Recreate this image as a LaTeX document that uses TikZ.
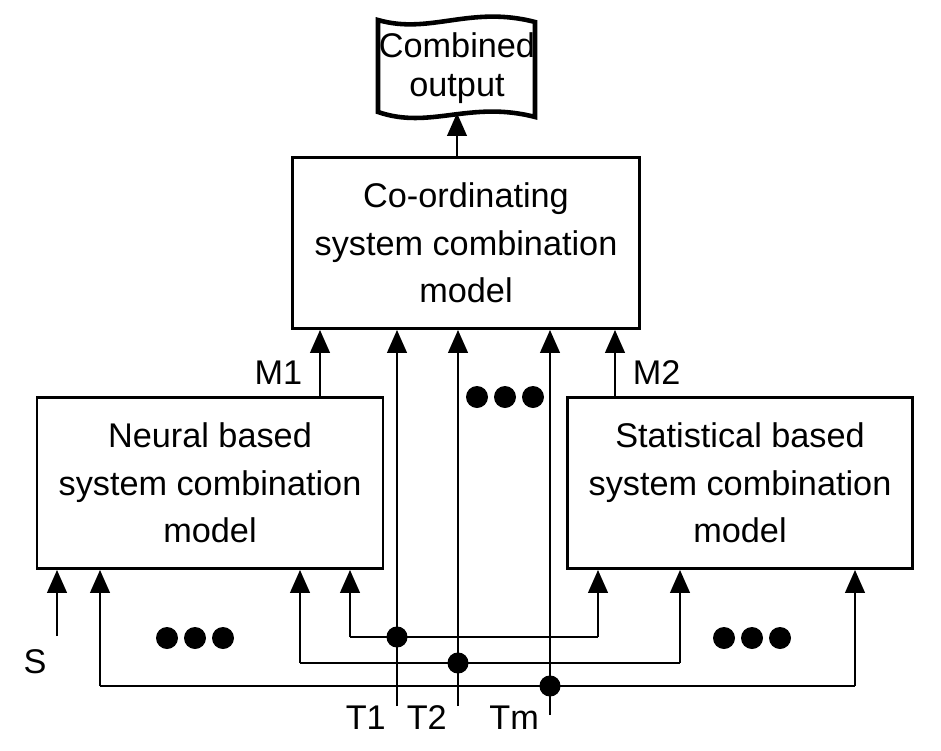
\documentclass[tikz,border=0pt]{standalone}
\usepackage{fontspec}
\setmainfont{Liberation Sans}
\usetikzlibrary{arrows.meta}
\tikzset{
  box/.style={draw,line width=1.6pt,align=center,font=\fontsize{19.5}{27}\selectfont},
  feed/.style={line width=1.6pt,-{Triangle[length=13pt,width=11pt]}},
  wire/.style={line width=1.6pt},
  dot/.style={circle,fill,inner sep=0pt,minimum size=12pt},
  lbl/.style={font=\fontsize{19.5}{22}\selectfont}
}
\begin{document}
\begin{tikzpicture}[x=0.02cm,y=-0.02cm]
	\useasboundingbox (0,0) rectangle (941,751);
%		boxes
	\node[box,minimum width=347*0.02cm,minimum height=171*0.02cm] (coord) at (466,243) {Co-ordinating\\system combination\\model};
	\node[box,minimum width=346*0.02cm,minimum height=171*0.02cm] (neural) at (210,483) {Neural based\\system combination\\model};
	\node[box,minimum width=345*0.02cm,minimum height=171*0.02cm] (stat) at (740,483) {Statistical based\\system combination\\model};
%		output document
	\draw[line width=2.6pt] (378,20) .. controls (430,35) and (470,5) .. (535,22)
		-- (535,117) .. controls (470,100) and (430,130) .. (378,112) -- cycle;
	\node[lbl,align=center] (out) at (457,68) {Combined\\output};
	\coordinate (outb) at (457,113);
	\draw[feed] (coord.north -| outb) -- (outb);
%		model outputs
	\draw[feed] (neural.north -| 320,0) -- (coord.south -| 320,0) node[lbl,pos=0.35,left=6pt] {M1};
	\draw[feed] (stat.north -| 615,0) -- (coord.south -| 615,0) node[lbl,pos=0.35,right=6pt] {M2};
%		translations
	\coordinate (t1) at (397,706);
	\coordinate (t2) at (458,706);
	\coordinate (tm) at (550,715);
	\draw[feed] (t1) -- (coord.south -| t1);
	\draw[feed] (t2) -- (coord.south -| t2);
	\draw[feed] (tm) -- (coord.south -| tm);
	\node[lbl,anchor=east] at (392,718) {T1};
	\node[lbl,anchor=east] at (453,718) {T2};
	\node[lbl,anchor=east] at (545,718) {Tm};
%		distribution lines
	\coordinate (h1) at (0,637);
	\coordinate (h2) at (0,663);
	\coordinate (h3) at (0,686);
	\draw[wire] (h1 -| 350,0) -- (h1 -| 598,0);
	\draw[wire] (h2 -| 300,0) -- (h2 -| 680,0);
	\draw[wire] (h3 -| 100,0) -- (h3 -| 855,0);
	\draw[feed] (h1 -| 350,0) -- (neural.south -| 350,0);
	\draw[feed] (h1 -| 598,0) -- (stat.south -| 598,0);
	\draw[feed] (h2 -| 300,0) -- (neural.south -| 300,0);
	\draw[feed] (h2 -| 680,0) -- (stat.south -| 680,0);
	\draw[feed] (h3 -| 100,0) -- (neural.south -| 100,0);
	\draw[feed] (h3 -| 855,0) -- (stat.south -| 855,0);
	\node[dot] at (h1 -| t1) {};
	\node[dot] at (h2 -| t2) {};
	\node[dot] at (h3 -| tm) {};
%		source
	\coordinate (s) at (57,636);
	\draw[feed] (s) -- (neural.south -| s);
	\node[lbl] at (35,662) {S};
%		ellipses
	\foreach \cx/\cy in {195/638, 505/397, 752/638}
		\foreach \dx in {-28,0,28}
			\fill (\cx+\dx,\cy) circle (11);
\end{tikzpicture}
\end{document}
